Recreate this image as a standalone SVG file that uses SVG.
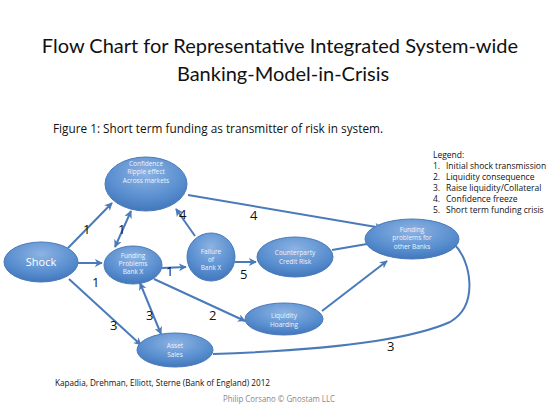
<svg xmlns="http://www.w3.org/2000/svg" width="560" height="420" viewBox="0 0 560 420">
<defs>
<radialGradient id="g" cx="50%" cy="30%" r="75%">
<stop offset="0" stop-color="#8db3e2"/>
<stop offset="0.6" stop-color="#5a8fd0"/>
<stop offset="1" stop-color="#3d72b8"/>
</radialGradient>
<marker id="a" viewBox="0 0 10 10" refX="9" refY="5" markerWidth="4" markerHeight="4" orient="auto-start-reverse">
<path d="M0,0 L10,5 L0,10 L3,5 z" fill="#4a7ab8"/>
</marker>
</defs>
<style>
.n{fill:url(#g);stroke:#4a7ab8;stroke-width:1}
.nt{font-family:"Open Sans","Liberation Sans",sans-serif;font-size:6.5px;fill:#eef4fb;text-anchor:middle}
.c{fill:none;stroke:#4a7ab8;stroke-width:2}
.l{font-family:"Open Sans","Liberation Sans",sans-serif;font-size:13px;fill:#111}
.t{font-family:"Open Sans","Liberation Sans",sans-serif;fill:#111}
.h{font-family:Lato,"Open Sans",sans-serif;fill:#111;font-size:20px;text-anchor:middle}
</style>
<rect width="560" height="420" fill="#fff"/>
<text class="h" x="280" y="53">Flow Chart for Representative Integrated System-wide</text>
<text class="h" x="283" y="81">Banking-Model-in-Crisis</text>
<text class="t" x="53" y="133" font-size="13" textLength="330" lengthAdjust="spacingAndGlyphs">Figure 1: Short term funding as transmitter of risk in system.</text>
<g id="legend" class="t" font-size="8.5">
<text x="433" y="158">Legend:</text>
<text x="433" y="169">1.</text><text x="446" y="169">Initial shock transmission</text>
<text x="433" y="180">2.</text><text x="446" y="180">Liquidity consequence</text>
<text x="433" y="191">3.</text><text x="446" y="191">Raise liquidity/Collateral</text>
<text x="433" y="202">4.</text><text x="446" y="202">Confidence freeze</text>
<text x="433" y="213">5.</text><text x="446" y="213">Short term funding crisis</text>
</g>
<g id="connectors">
<line class="c" x1="68" y1="248" x2="112" y2="203" marker-end="url(#a)"/>
<line class="c" x1="78" y1="263" x2="102" y2="263" marker-end="url(#a)"/>
<line class="c" x1="115" y1="247" x2="131" y2="211" marker-start="url(#a)" marker-end="url(#a)"/>
<line class="c" x1="195" y1="236" x2="176" y2="209" marker-end="url(#a)"/>
<line class="c" x1="188" y1="195" x2="382" y2="228" marker-end="url(#a)"/>
<line class="c" x1="162" y1="268" x2="186" y2="267" marker-end="url(#a)"/>
<line class="c" x1="235" y1="262" x2="256" y2="262" marker-end="url(#a)"/>
<line class="c" x1="332" y1="250" x2="367" y2="244"/>
<line class="c" x1="322" y1="311" x2="387" y2="261" marker-end="url(#a)"/>
<line class="c" x1="154" y1="279" x2="245" y2="321" marker-end="url(#a)"/>
<line class="c" x1="140" y1="283" x2="161" y2="334" marker-start="url(#a)" marker-end="url(#a)"/>
<line class="c" x1="69" y1="279" x2="141" y2="345" marker-end="url(#a)"/>
<path class="c" d="M213,354 C330,350 410,340 450,322 C480,305 470,260 455,245"/>
<text class="l" x="83" y="234">1</text>
<text class="l" x="118" y="234">1</text>
<text class="l" x="92" y="287">1</text>
<text class="l" x="179" y="219">4</text>
<text class="l" x="250" y="220">4</text>
<text class="l" x="166" y="276">1</text>
<text class="l" x="240" y="279">5</text>
<text class="l" x="209" y="320">2</text>
<text class="l" x="146" y="320">3</text>
<text class="l" x="110" y="330">3</text>
<text class="l" x="387" y="351">3</text>
</g>
<g id="confidence"><ellipse class="n" cx="146" cy="184" rx="41" ry="27"/>
<text class="nt" x="146" y="166">Confidence</text><text class="nt" x="146" y="174">Ripple effect</text><text class="nt" x="146" y="183">Across markets</text></g>
<g id="shock"><ellipse class="n" cx="41" cy="262" rx="37" ry="20"/>
<text x="41" y="266" font-family="Open Sans, Liberation Sans, sans-serif" font-size="11" fill="#fff" text-anchor="middle">Shock</text></g>
<g id="funding"><ellipse class="n" cx="133" cy="265" rx="29" ry="19"/>
<text class="nt" x="133" y="258">Funding</text><text class="nt" x="133" y="266">Problems</text><text class="nt" x="133" y="274">Bank X</text></g>
<g id="failure"><ellipse class="n" cx="211" cy="257" rx="24" ry="24"/>
<text class="nt" x="211" y="254">Failure</text><text class="nt" x="211" y="262">of</text><text class="nt" x="211" y="270">Bank X</text></g>
<g id="counterparty"><ellipse class="n" cx="295" cy="257" rx="38" ry="20"/>
<text class="nt" x="295" y="255">Counterparty</text><text class="nt" x="295" y="264">Credit Risk</text></g>
<g id="other"><ellipse class="n" cx="412" cy="239" rx="47" ry="20"/>
<text class="nt" x="412" y="232">Funding</text><text class="nt" x="412" y="240">problems for</text><text class="nt" x="412" y="249">other Banks</text></g>
<g id="liquidity"><ellipse class="n" cx="284" cy="319" rx="39" ry="16"/>
<text class="nt" x="284" y="318">Liquidity</text><text class="nt" x="284" y="327">Hoarding</text></g>
<g id="asset"><ellipse class="n" cx="175" cy="350" rx="38" ry="17"/>
<text class="nt" x="175" y="348">Asset</text><text class="nt" x="175" y="357">Sales</text></g>
<text class="t" x="55" y="386" font-size="9" textLength="215" lengthAdjust="spacingAndGlyphs">Kapadia, Drehman, Elliott, Sterne (Bank of England) 2012</text>
<text x="279" y="402" font-family="Open Sans, Liberation Sans, sans-serif" font-size="8.5" fill="#888" text-anchor="middle" textLength="112" lengthAdjust="spacingAndGlyphs">Philip Corsano © Gnostam LLC</text>
</svg>
